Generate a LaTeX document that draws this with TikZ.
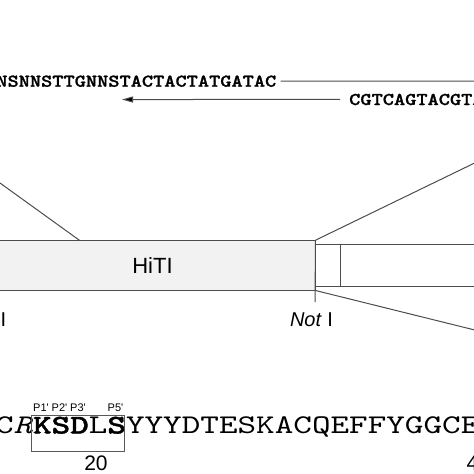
\documentclass[tikz,border=0pt]{standalone}
\usepackage{fontspec}
\usetikzlibrary{arrows.meta}
\newfontfamily\arialfont{Liberation Sans}
\newfontfamily\primerfont{lmmonolt10-bold.otf}[FakeStretch=1.185, FakeBold=1.2]
\newfontfamily\pepfont{lmmono10-regular.otf}[FakeStretch=1.312,
  ItalicFont=lmmono10-italic.otf, BoldFont=lmmonolt10-bold.otf,
  BoldFeatures={FakeBold=1.5}]

\tikzset{
  ln/.style={draw=black!70, line width=1pt},
  primer/.style={inner sep=0pt, font=\fontsize{18}{18}\selectfont\primerfont},
  peptide/.style={inner sep=0pt, font=\fontsize{27}{27}\selectfont\pepfont},
  sans/.style={inner sep=0pt, font=\fontsize{#1}{#1}\selectfont\arialfont},
  sans/.default=20,
  block/.style={draw=black!70, line width=1pt, inner sep=0pt},
}

\begin{document}
\begin{tikzpicture}[x=1pt,y=-1pt]
\useasboundingbox (0,0) rectangle (474,474);
\clip (0,0) rectangle (474,474);

% primers
\node[primer, anchor=base east] (fwd) at (276.5,86.7) {NSNNSTTGNNSTACTACTATGATAC};
\node[primer, anchor=base west] (rev) at (349,105) {CGTCAGTACGTA};
\coordinate (fwdend) at (480,81.2);
\coordinate (revtip) at (122,99.5);

\path[ln, shorten <=4pt] (fwd) edge (fwdend);
\path[ln, shorten <=9pt, -{Triangle[length=11pt,width=6pt]}] (rev) edge (revtip);

% construct
\node[block, fill=black!5, minimum width=325pt, minimum height=49.3pt, sans=22] (hiti) at (152.5,265.35) {HiTI};
\node[block, minimum width=25pt, minimum height=42.4pt] (tag) at (327.5,265.5) {};
\node[block, minimum width=145pt, minimum height=42.4pt] (vec) at (412.5,265.5) {};

\coordinate (lfar) at (-10,175.8);
\coordinate (lfoot) at (80,240.7);
\coordinate (rup) at (480,160.4);
\coordinate (rlow) at (480,331.3);
\coordinate (notcut) at (315,302);

\path[ln] (lfar) edge (lfoot);
\path[ln] (hiti.north east) edge (rup);
\path[ln] (hiti.south east) edge (rlow);
\path[ln] (hiti.north east) edge (notcut);

\node[sans, anchor=base] (notI) at (311.5,326) {\textit{Not} I};
\node[sans, anchor=base west] (leftI) at (0.5,326) {I};

% peptide
\node[peptide, anchor=base west] (pep) at (-5.2,433.5) {C\textit{R}\textbf{KSD}L\textbf{S}YYYDTESKACQEFFYGGCE};
\node[draw=black!65, line width=0.7pt, inner sep=0pt, minimum width=92.6pt, minimum height=36pt] (site) at (78,433) {};

\node[sans=11, anchor=base] (p1) at (41,411.5) {P1'};
\node[sans=11, anchor=base] (p2) at (59.5,411.5) {P2'};
\node[sans=11, anchor=base] (p3) at (78,411.5) {P3'};
\node[sans=11, anchor=base] (p5) at (115.5,411.5) {P5'};

\node[sans=21, anchor=base] (n20) at (96,470) {20};
\node[sans=21, anchor=base west] (n40) at (466.5,470) {40};
\end{tikzpicture}
\end{document}
